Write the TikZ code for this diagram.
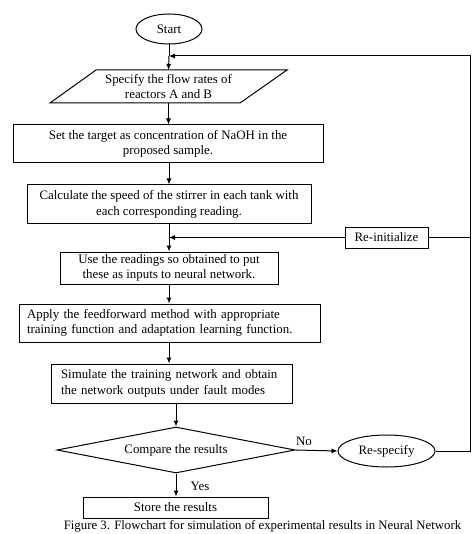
\documentclass[tikz,border=0pt]{standalone}
\usepackage{fontspec}
\setmainfont{Liberation Serif}
\usetikzlibrary{shapes.geometric,arrows.meta}
\begin{document}
\begin{tikzpicture}[x=1pt,y=-1pt,
  every node/.style={font=\fontsize{12.9}{15.5}\selectfont},
  box/.style={draw, line width=1pt, rectangle, inner sep=0pt, align=center},
  oval/.style={draw, line width=1pt, ellipse, inner sep=0pt},
  arr/.style={line width=1pt, -{Latex[length=6pt,width=5pt]}},
  ln/.style={line width=1pt}]
\useasboundingbox (0,0) rectangle (474,534);
% nodes
\node[oval, minimum width=66, minimum height=30] (start) at (169,29) {Start};
\node[align=center, minimum height=33, inner sep=0pt] (spec) at (168.5,86.5) {Specify the flow rates of\\reactors A and B};
\draw[ln] (96,70) -- (287,70) -- (240,103) -- (50,103) -- cycle;
\node[box, minimum width=310, minimum height=38] (target) at (168,144) {Set the target as concentration of NaOH in the\\proposed sample.};
\node[box, minimum width=284, minimum height=39] (calc) at (169,204.5) {Calculate the speed of the stirrer in each tank with\\each corresponding reading.};
\node[box, minimum width=83, minimum height=21] (reinit) at (386.5,237.5) {Re-initialize};
\node[box, minimum width=218, minimum height=32] (use) at (169,268) {Use the readings so obtained to put\\these as inputs to neural network.};
\node[box, minimum width=301, minimum height=38, text width=285, align=left] (apply) at (169.5,323) {Apply the feedforward method with appropriate\\training function and adaptation learning function.};
\node[box, minimum width=241, minimum height=39, text width=221, align=left] (sim) at (171.5,383.5) {Simulate the training network and obtain\\the network outputs under fault modes};
\node[draw, line width=1pt, diamond, minimum width=238, minimum height=46, inner sep=0pt, shape aspect=5.2] (cmp) at (176,450) {Compare the results};
\node[oval, minimum width=97, minimum height=32] (respec) at (386.5,451) {Re-specify};
\node[box, minimum width=185, minimum height=21] (store) at (175.5,507.5) {Store the results};
\node[inner sep=0pt, font=\fontsize{12.8}{15}\selectfont] (cap) at (262.5,526) {Figure 3. Flowchart for simulation of experimental results in Neural Network};
\node[inner sep=0pt] (no) at (304,441) {No};
\node[inner sep=0pt] (yes) at (200,486) {Yes};
% helper coordinates
\coordinate (j1) at (169,56);
\coordinate (j2) at (169,237.5);
\coordinate (rx) at (470,0);
% connectors
\draw[ln] (start.south) -- (j1);
\draw[arr] (j1) -- (spec.south |- 0,70);
\draw[arr] (spec.south |- 0,103) -- (spec.south |- target.north);
\draw[arr] (target.south -| calc.north) -- (calc.north);
\draw[ln] (calc.south) -- (j2);
\draw[arr] (j2) -- (use.north);
\draw[arr] (use.south) -- (use.south |- apply.north);
\draw[arr] (apply.south -| use.south) -- (use.south |- sim.north);
\draw[arr] (sim.south -| cmp.north) -- (cmp.north);
\draw[arr] (cmp.south) -- (cmp.south |- store.north);
\draw[arr] (cmp.east) -- (respec.west);
\draw[arr] (respec.east) -- (rx |- respec.east) -- (rx |- j1) -- (j1);
\draw[arr] (reinit.west) -- (j2);
\draw[ln] (reinit.east) -- (rx |- reinit.east);
\end{tikzpicture}
\end{document}
